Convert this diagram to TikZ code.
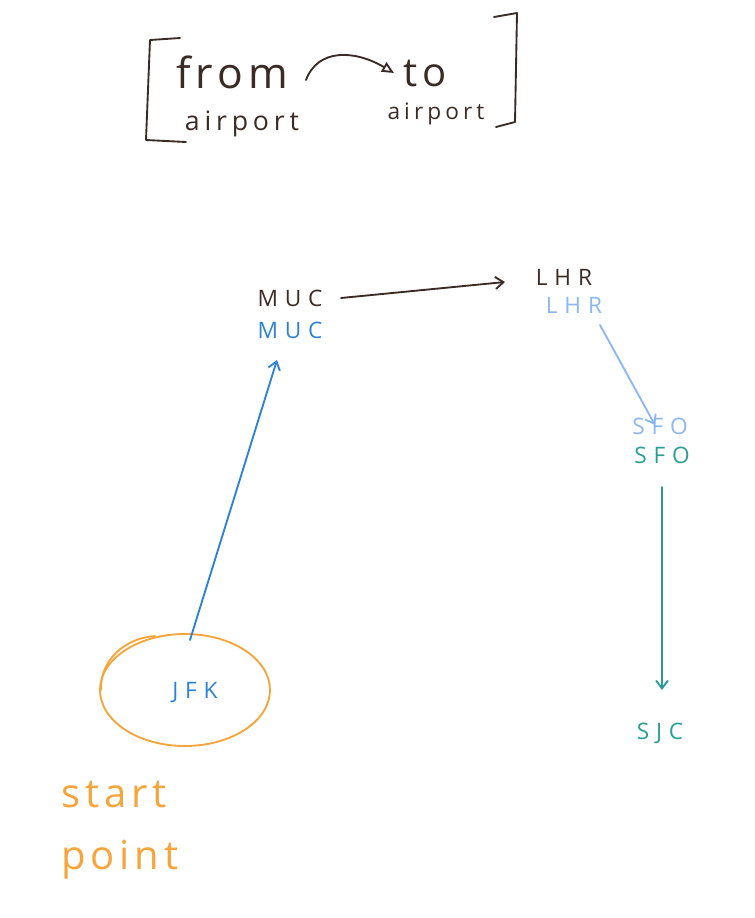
\documentclass[tikz,border=0pt]{standalone}
\usepackage{fontspec}
\setmainfont{Open Sans}
\newfontfamily\widehand[LetterSpace=30]{Open Sans}
\newfontfamily\midhand[LetterSpace=18]{Open Sans}
\newfontfamily\loosehand[LetterSpace=12]{Open Sans}
\usetikzlibrary{arrows.meta,shapes.geometric}
\definecolor{ink}{HTML}{3B2B26}
\definecolor{blu}{HTML}{2D82D6}
\definecolor{lblu}{HTML}{8DB6F5}
\definecolor{teal}{HTML}{2A9E96}
\definecolor{orng}{HTML}{F6A53C}
\tikzset{
	pen/.style={line width=1.4pt, line cap=round, line join=round},
	code/.style={font=\widehand\fontsize{17}{20}\selectfont, inner sep=2pt},
	barb/.style={-{Straight Barb[length=6pt, width=9pt]}},
}
\begin{document}
\begin{tikzpicture}[x=0.75pt, y=-0.75pt]
	\useasboundingbox (0,0) rectangle (754,918);
	% legend
	\node[text=ink, font=\loosehand\fontsize{32}{36}\selectfont] (from) at (232,72) {from};
	\node[text=ink, font=\midhand\fontsize{20}{24}\selectfont] (fa) at (242,124) {airport};
	\node[text=ink, font=\loosehand\fontsize{30}{34}\selectfont] (to) at (425,74) {to};
	\node[text=ink, font=\midhand\fontsize{17}{20}\selectfont] (ta) at (436,114) {airport};
	\draw [pen, ink] (180,38) -- (150,40) -- (146,140) -- (186,142);
	\draw [pen, ink] (494,17) -- (517,13) -- (515,122) -- (496,127);
	\coordinate (c1) at (306,80);
	\coordinate (c2) at (394,73);
	\draw [pen, ink, -{Triangle[open, length=9pt, width=8pt]}] (c1) .. controls (318,48) and (355,50) .. (c2);
	% airports
	\node[code, text=ink] (MUCa) at (290,298) {MUC};
	\node[code, text=blu] (MUCb) at (290,330) {MUC};
	\node[code, text=ink] (LHRa) at (564,277) {LHR};
	\node[code, text=lblu] (LHRb) at (574,305) {LHR};
	\node[code, text=lblu] (SFOa) at (660,426) {SFO};
	\node[code, text=teal] (SFOb) at (662,455) {SFO};
	\node[code, text=teal] (SJC) at (660,733) {SJC};
	\node[code, text=blu] (JFK) at (195,693) {JFK};
	\node[draw=orng, pen, ellipse, minimum width=127.5pt, minimum height=84pt, inner sep=0pt] (ring) at (185,690) {};
	\draw [pen, orng] (101,690) .. controls (100,660) and (125,638) .. (155,636);
	\node[text=orng, font=\loosehand\fontsize{30}{40}\selectfont, align=left, inner sep=0pt] (start) at (120,830) {start\\[6pt]point};
	% routes
	\coordinate (m0) at (341,298);
	\coordinate (m1) at (505,282);
	\coordinate (j0) at (190,640);
	\coordinate (j1) at (277,360);
	\coordinate (l0) at (600,325);
	\coordinate (l1) at (655,425);
	\coordinate (s0) at (662,487);
	\coordinate (s1) at (662,690);
	\draw [pen, ink, barb] (m0) -- (m1);
	\draw [pen, blu, barb] (j0) -- (j1);
	\draw [pen, lblu, barb] (l0) -- (l1);
	\draw [pen, teal, barb] (s0) -- (s1);
\end{tikzpicture}
\end{document}
